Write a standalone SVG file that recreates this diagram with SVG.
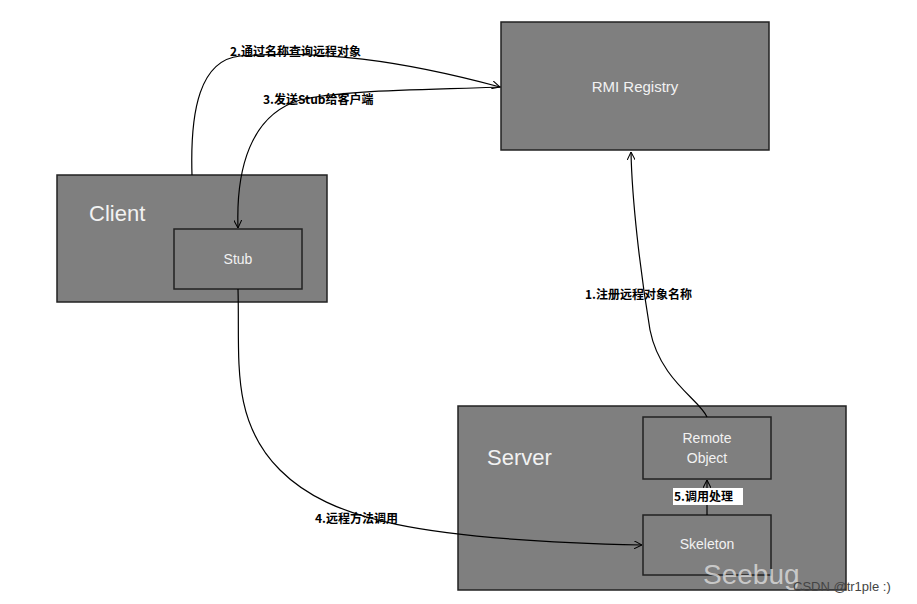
<svg xmlns="http://www.w3.org/2000/svg" width="917" height="604" viewBox="0 0 917 604">
<defs>
<marker id="ar" viewBox="0 0 10 10" refX="10" refY="5" markerWidth="8" markerHeight="8" orient="auto" markerUnits="userSpaceOnUse"><path d="M0,0 L10,5 L0,10" fill="none" stroke="#000" stroke-width="1.3"/></marker>
<style>
.box{fill:#7f7f7f;stroke:#222;stroke-width:1.5}
.t{font-family:"Liberation Sans","Noto Sans CJK SC",sans-serif;fill:#f2f2f2}
.lbl{font-family:"Noto Sans CJK SC",sans-serif;font-weight:bold;font-size:12px;fill:#000}
.c{fill:none;stroke:#000;stroke-width:1.2}
</style>
</defs>
<rect width="917" height="604" fill="#fff"/>
<g id="registry"><rect class="box" x="501" y="22" width="268" height="128"/><text class="t" x="635" y="92" font-size="15" text-anchor="middle">RMI Registry</text></g>
<g id="client"><rect class="box" x="57" y="175" width="270" height="127"/><text class="t" x="89" y="221" font-size="22">Client</text></g>
<g id="stub"><rect class="box" x="174" y="229" width="128" height="60"/><text class="t" x="238" y="264" font-size="14" text-anchor="middle">Stub</text></g>
<g id="server"><rect class="box" x="458" y="406" width="388" height="184"/><text class="t" x="487" y="465" font-size="22">Server</text></g>
<g id="remote"><rect class="box" x="643" y="417" width="128" height="62"/><text class="t" x="707" y="443" font-size="14" text-anchor="middle">Remote</text><text class="t" x="707" y="463" font-size="14" text-anchor="middle">Object</text></g>
<g id="skeleton"><rect class="box" x="643" y="515" width="128" height="60"/><text class="t" x="707" y="549" font-size="14" text-anchor="middle">Skeleton</text></g>
<g id="connectors">
<path class="c" d="M707,417 C700,400 660,380 650,330 C640,270 632,200 631,152" marker-end="url(#ar)"/>
<path class="c" d="M192,175 C190,110 200,60 240,56 C320,50 400,60 500,87" marker-end="url(#ar)"/>
<path class="c" d="M501,87 C420,90 340,90 300,100 C250,115 236,170 238,228" marker-end="url(#ar)"/>
<path class="c" d="M238,289 C240,360 230,420 280,470 C330,520 420,540 642,545" marker-end="url(#ar)"/>
<path class="c" d="M707,515 L707,480" marker-end="url(#ar)"/>
<text class="lbl" x="585" y="299">1.注册远程对象名称</text>
<text class="lbl" x="230" y="56">2.通过名称查询远程对象</text>
<text class="lbl" x="263" y="104">3.发送Stub给客户端</text>
<text class="lbl" x="315" y="523">4.远程方法调用</text>
<rect x="673" y="488" width="70" height="17" fill="#fff"/>
<text class="lbl" x="674" y="501">5.调用处理</text>
</g>
<text x="703" y="584" font-family="Liberation Sans,sans-serif" font-size="28" fill="#ddd" fill-opacity="0.8">Seebug</text>
<text x="793" y="591" font-family="Liberation Sans,sans-serif" font-size="13" fill="#444">CSDN @tr1ple :)</text>
</svg>
